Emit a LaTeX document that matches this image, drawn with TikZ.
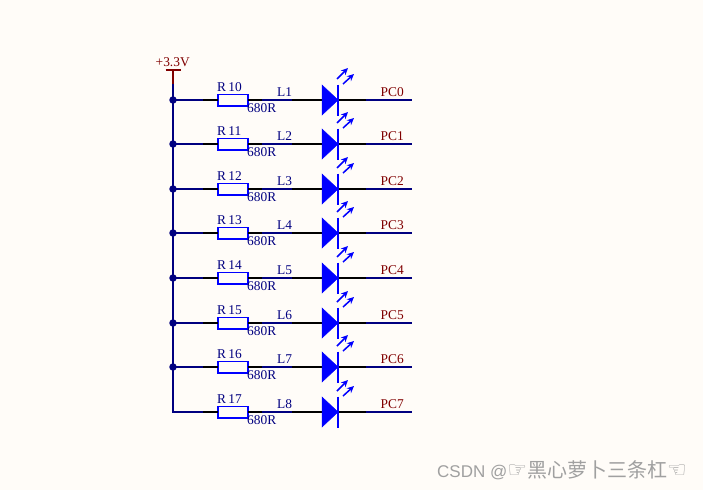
\documentclass[tikz,border=0pt]{standalone}
\usepackage{fontspec}
\setmainfont{Liberation Serif}
\newfontfamily\cjkwm{Noto Sans CJK SC}
\newfontfamily\symwm{DejaVu Sans}
\newfontfamily\latwm{Liberation Sans}
\usetikzlibrary{arrows.meta,calc}
\definecolor{bgc}{HTML}{FFFCF8}
\definecolor{wirenavy}{HTML}{000080}
\definecolor{partblue}{HTML}{0000FF}
\definecolor{netred}{HTML}{800000}
\definecolor{wmgrey}{HTML}{A0A0A0}
\tikzset{
  navywire/.style={draw=wirenavy,line width=1.5pt},
  blackwire/.style={draw=black,line width=1.5pt},
  powerwire/.style={draw=netred,line width=1.5pt},
  resbox/.style={draw=partblue,line width=1.5pt,fill=bgc,minimum width=30pt,minimum height=11.5pt,inner sep=0pt,outer sep=0pt},
  ledbody/.style={fill=partblue,draw=partblue,line width=.5pt,line join=miter},
  ledbar/.style={draw=partblue,line width=1.5pt},
  ledarrow/.style={draw=partblue,line width=1.5pt,-{Stealth[length=7pt,width=6.5pt]}},
  dotj/.style={circle,fill=wirenavy,minimum size=7.5pt,inner sep=0pt},
  lab/.style={inner sep=0pt,font=\fontsize{13.4}{13.4}\selectfont,anchor=base west},
  navylab/.style={lab,text=wirenavy},
  redlab/.style={lab,text=netred},
}
\begin{document}
\begin{tikzpicture}[x=1pt,y=-1pt]
\useasboundingbox[fill=bgc] (0,0) rectangle (703,490);
\node[redlab,anchor=base west] (vcc) at (155.5,66.5) {+3.3V};
\coordinate (pwrtop) at (173,70);
\coordinate (pwrl) at (165.5,70);
\coordinate (pwrr) at (181,70);
\coordinate (pwrm) at (173,84);
\draw[powerwire] (pwrl) -- (pwrr);
\draw[powerwire] (pwrtop) -- (pwrm);
\foreach \i/\yy/\rn/\ln/\pc in {0/100/R\,10/L1/PC0,1/144/R\,11/L2/PC1,2/189/R\,12/L3/PC2,3/233/R\,13/L4/PC3,4/278/R\,14/L5/PC4,5/323/R\,15/L6/PC5,6/367/R\,16/L7/PC6,7/412/R\,17/L8/PC7}{
  \coordinate (bus\i) at (173,\yy);
  \coordinate (w1\i) at (203,\yy);
  \node[resbox] (res\i) at (233,\yy) {};
  \coordinate (w2\i) at (262,\yy);
  \coordinate (w3\i) at (292,\yy);
  \coordinate (an\i) at (322,\yy);
  \coordinate (ka\i) at (338,\yy);
  \coordinate (w4\i) at (366,\yy);
  \coordinate (pin\i) at (412,\yy);
  \draw[navywire] (bus\i) -- (w1\i);
  \draw[blackwire] (w1\i) -- (res\i.west);
  \draw[blackwire] (res\i.east) -- (w2\i);
  \draw[navywire] (w2\i) -- (w3\i);
  \draw[blackwire] (w3\i) -- (an\i);
  \draw[blackwire] (ka\i) -- (w4\i);
  \draw[navywire] (w4\i) -- (pin\i);
  \fill[ledbody] ($(an\i)+(0,-15)$) -- (ka\i) -- ($(an\i)+(0,15)$) -- cycle;
  \draw[ledbar] ($(ka\i)+(0,-15.5)$) -- ($(ka\i)+(0,15.5)$);
  \draw[ledarrow] ($(ka\i)+(-1,-21)$) -- ($(ka\i)+(10,-32)$);
  \draw[ledarrow] ($(ka\i)+(5,-16)$) -- ($(ka\i)+(16,-26)$);
  \node[navylab] (rn\i) at ($(bus\i)+(44,-9)$) {\rn};
  \node[navylab] (val\i) at ($(bus\i)+(74,12.5)$) {680R};
  \node[navylab] (ln\i) at ($(bus\i)+(104,-4)$) {\ln};
  \node[redlab] (pc\i) at ($(bus\i)+(207.5,-4)$) {\pc};
}
\draw[navywire] (pwrm) -- (bus7) -- (w17);
\foreach \i in {0,...,6}{\node[dotj] (dot\i) at (bus\i) {};}
\node[anchor=base west,inner sep=0pt,text=wmgrey,font=\fontsize{17}{17}\selectfont] (wm) at (437,477) {\latwm CSDN @\symwm\fontsize{22}{22}\selectfont ☞\cjkwm\fontsize{20}{20}\selectfont 黑心萝卜三条杠\symwm\fontsize{22}{22}\selectfont ☜};
\end{tikzpicture}
\end{document}
